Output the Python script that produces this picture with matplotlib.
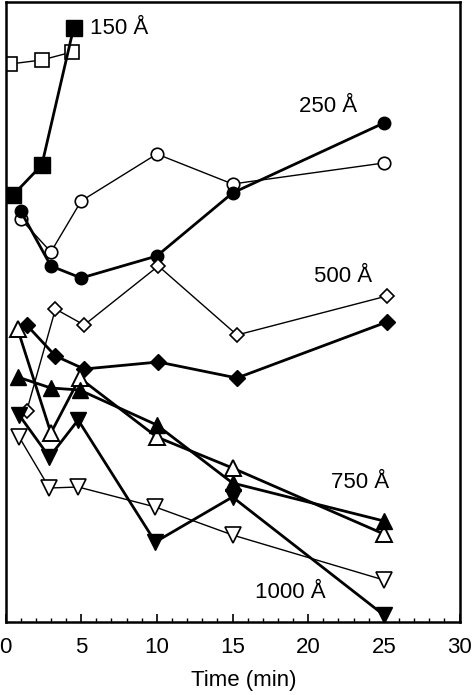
import matplotlib
matplotlib.use("Agg")
from matplotlib import pyplot as plt
from matplotlib.ticker import MultipleLocator

plt.rcParams['font.family'] = ['Liberation Sans', 'DejaVu Sans']

# time points (min) and signal (arbitrary units)
t150_open = [0.3, 2.4, 4.4]
y150_open = [558, 562, 570]
t150_fill = [0.5, 2.4, 4.5]
y150_fill = [427, 457, 594]

t_std = [1, 3, 5, 10, 15, 25]
y250_open = [403, 370, 421, 468, 438, 459]
y250_fill = [411, 356, 344, 366, 429, 499]

t500 = [1.4, 3.3, 5.2, 10.1, 15.3, 25.2]
y500_open = [211, 313, 297, 356, 287, 326]
y500_fill = [297, 266, 253, 260, 244, 300]

t750 = [0.8, 3, 4.9, 10, 15, 25]
y750_open = [293, 189, 244, 185, 154, 88]
y750_fill = [245, 234, 232, 197, 139, 101]

t1000 = [0.9, 2.9, 4.8, 9.9, 15, 25]
y1000_open = [185, 134, 135, 115, 87, 42]
y1000_fill = [207, 165, 202, 80, 125, 7]

labels = ["150 Å", "250 Å", "500 Å", "750 Å", "1000 Å"]
label_x = [5.6, 19.4, 20.4, 21.5, 16.5]
label_y = [594, 516, 345, 140, 30]

thick = 2.0
thin = 1.0
k = "black"

fig = plt.figure(figsize=(4.74, 6.95), dpi=100)
ax = fig.add_axes([5.5 / 474, 73 / 695, 454 / 474, 620 / 695])

# 150 A
ax.plot(t150_open, y150_open, color=k, lw=thin, marker="s", ms=10,
        mfc="white", mec=k, mew=1.2)
ax.plot(t150_fill, y150_fill, color=k, lw=thick, marker="s", ms=11,
        mfc=k, mec=k)
# 250 A
ax.plot(t_std, y250_open, color=k, lw=thin, marker="o", ms=9,
        mfc="white", mec=k, mew=1.2)
ax.plot(t_std, y250_fill, color=k, lw=thick, marker="o", ms=9,
        mfc=k, mec=k)
# 500 A
ax.plot(t500, y500_open, color=k, lw=thin, marker="D", ms=7,
        mfc="white", mec=k, mew=1.2)
ax.plot(t500, y500_fill, color=k, lw=thick, marker="D", ms=8,
        mfc=k, mec=k)
# 750 A
ax.plot(t750, y750_open, color=k, lw=thick, marker="^", ms=11,
        mfc="white", mec=k, mew=1.4)
ax.plot(t750, y750_fill, color=k, lw=thick, marker="^", ms=11,
        mfc=k, mec=k)
# 1000 A
ax.plot(t1000, y1000_open, color=k, lw=thin, marker="v", ms=11,
        mfc="white", mec=k, mew=1.2)
ax.plot(t1000, y1000_fill, color=k, lw=thick, marker="v", ms=11,
        mfc=k, mec=k)

for lab, lx, ly in zip(labels, label_x, label_y):
    ax.text(lx, ly, lab, fontsize=16, ha="left", va="center")

ax.set_xlim(0, 30)
ax.set_ylim(0, 620)
ax.xaxis.set_major_locator(MultipleLocator(5))
ax.xaxis.set_minor_locator(MultipleLocator(1))
ax.tick_params(axis="x", which="major", direction="in", length=6, width=1.2,
               labelsize=16, pad=11)
ax.tick_params(axis="x", which="minor", direction="in", length=3, width=1.0)
ax.tick_params(axis="y", left=False, labelleft=False)
for sp in ax.spines.values():
    sp.set_linewidth(1.8)

ax.set_xlabel("Time (min)", fontsize=16)
ax.xaxis.set_label_coords(0.525, -0.078)

fig.savefig("out.png", dpi=100)
